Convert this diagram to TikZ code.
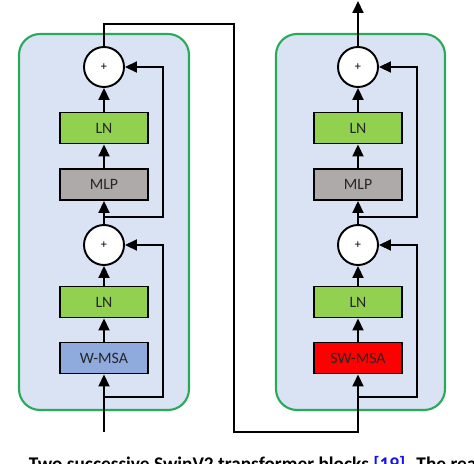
\documentclass[tikz,border=0pt]{standalone}
\usepackage{fontspec}
\setmainfont{Carlito}
\usepackage{tikz}
\usetikzlibrary{positioning}
\usetikzlibrary{calc}
\usetikzlibrary{arrows.meta}
\definecolor{panelfill}{RGB}{218,227,243}
\definecolor{panelline}{RGB}{40,170,90}
\definecolor{lnfill}{RGB}{146,208,80}
\definecolor{mlpfill}{RGB}{174,170,170}
\definecolor{wfill}{RGB}{143,170,220}
\definecolor{swfill}{RGB}{255,0,0}
\definecolor{txt}{RGB}{38,38,38}
\definecolor{citeblue}{RGB}{20,20,230}
\tikzstyle{panel} = [draw=panelline, fill=panelfill, line width=1.2pt, rounded corners=0.42cm]
\tikzstyle{block} = [draw, rectangle, line width=1.1pt, minimum height=0.62cm, minimum width=1.76cm, text=txt, font=\fontsize{9}{10}\selectfont]
\tikzstyle{sum} = [draw, circle, fill=white, line width=1.1pt, minimum size=0.8cm, inner sep=0pt, font=\fontsize{7}{8}\selectfont]
\tikzstyle{coord} = [coordinate]

\begin{document}
\begin{tikzpicture}[auto,node distance=1.15cm,line width=1.1pt,>={Triangle[length=0.24cm,width=0.22cm]}]
    \clip (0,0) rectangle (9.48,9.26);
    \useasboundingbox (0,0) rectangle (9.48,9.26);
    % the two blocks
    \draw [panel] (0.38,1.06) rectangle (3.78,8.58);
    \draw [panel] (5.52,1.06) rectangle (8.90,8.58);

    % left block
    \node [coord] (in1) at (2.08,0.62) {};
    \node [block, fill=wfill, above of=in1, node distance=1.48cm] (wmsa) {W-MSA};
    \node [block, fill=lnfill, above of=wmsa, node distance=1.12cm] (ln1) {LN};
    \node [sum, above of=ln1, node distance=1.14cm] (sum1) {+};
    \node [block, fill=mlpfill, above of=sum1, node distance=1.21cm] (mlp) {MLP};
    \node [block, fill=lnfill, above of=mlp, node distance=1.13cm] (ln2) {LN};
    \node [sum, above of=ln2, node distance=1.22cm] (sum2) {+};
    \node [coord, above of=in1, node distance=0.70cm] (br1) {};
    \node [coord, above of=sum1, node distance=0.56cm] (br2) {};

    % right block
    \node [coord, right of=in1, node distance=5.08cm] (in2) {};
    \node [block, fill=swfill, above of=in2, node distance=1.48cm] (swmsa) {SW-MSA};
    \node [block, fill=lnfill, above of=swmsa, node distance=1.12cm] (ln3) {LN};
    \node [sum, above of=ln3, node distance=1.14cm] (sum3) {+};
    \node [block, fill=mlpfill, above of=sum3, node distance=1.21cm] (mlp2) {MLP};
    \node [block, fill=lnfill, above of=mlp2, node distance=1.13cm] (ln4) {LN};
    \node [sum, above of=ln4, node distance=1.22cm] (sum4) {+};
    \node [coord, above of=in2, node distance=0.70cm] (br3) {};
    \node [coord, above of=sum3, node distance=0.56cm] (br4) {};
    \node [coord, above of=sum4, node distance=1.32cm] (out) {};

    % link between the blocks
    \node [coord, above of=sum2, node distance=0.86cm] (top) {};
    \node [coord, right of=in1, node distance=2.60cm] (mid) {};

    \draw [->] (in1) -- (wmsa);
    \draw [->] (wmsa) -- (ln1);
    \draw [->] (ln1) -- (sum1);
    \draw [->] (sum1) -- (mlp);
    \draw [->] (mlp) -- (ln2);
    \draw [->] (ln2) -- (sum2);
    \draw [->] (br1) -- ++(1.18,0) |- (sum1);
    \draw [->] (br2) -- ++(1.18,0) |- (sum2);
    \draw [->] (sum2) -- (top) -| (mid) -- (in2) -- (swmsa);
    \draw [->] (swmsa) -- (ln3);
    \draw [->] (ln3) -- (sum3);
    \draw [->] (sum3) -- (mlp2);
    \draw [->] (mlp2) -- (ln4);
    \draw [->] (ln4) -- (sum4);
    \draw [->] (br3) -- ++(1.18,0) |- (sum3);
    \draw [->] (br4) -- ++(1.18,0) |- (sum4);
    \draw [->] (sum4) -- (out);

    % caption, cut by the frame
    \node [anchor=base east, text=citeblue, font=\bfseries\fontsize{11}{13}\selectfont] (fig) at (0.12,-0.14) {1};
    \node [anchor=base west, font=\bfseries\fontsize{11}{13}\selectfont] (cap) at (0.44,-0.14) {Two successive SwinV2 transformer blocks \textcolor{citeblue}{[19]}. The rea};
\end{tikzpicture}
\end{document}
